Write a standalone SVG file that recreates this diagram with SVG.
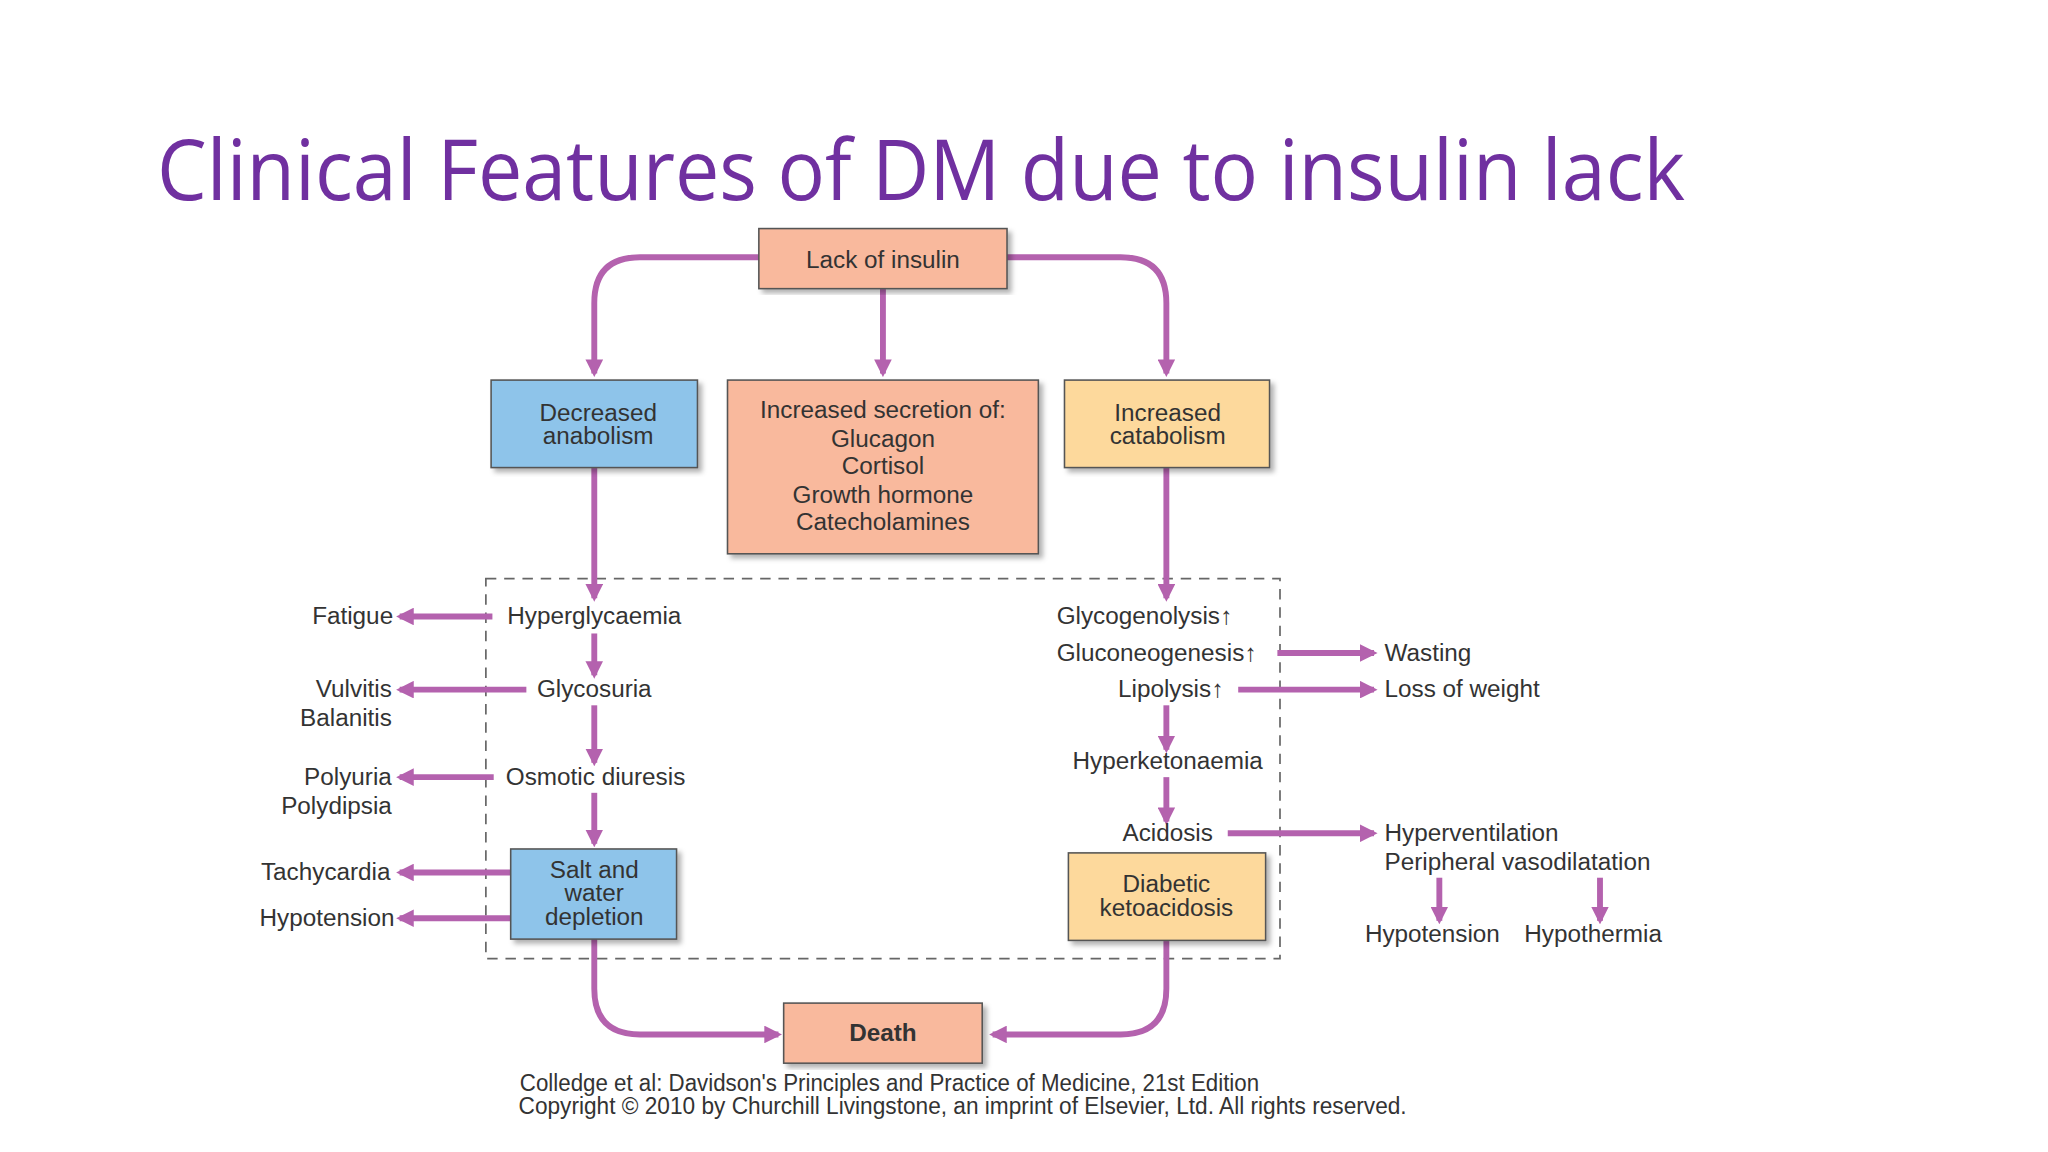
<svg xmlns="http://www.w3.org/2000/svg" width="2048" height="1152" viewBox="0 0 2048 1152">
<style>
.t{font-family:"Liberation Sans",Arial,sans-serif;font-size:18.6px;fill:#333}
.c{text-anchor:middle}
.e{text-anchor:end}
.box{stroke:#555;stroke-width:1.2}
.ln{fill:none;stroke:#B462AE;stroke-width:4.5;marker-end:url(#ah)}
.pk{fill:#F9B99D}.bl{fill:#8EC4EA}.yl{fill:#FDD99C}
</style>
<defs>
<marker id="ah" viewBox="0 0 10 10" refX="8" refY="5" markerWidth="3" markerHeight="3" orient="auto" markerUnits="strokeWidth"><path d="M0,0L10,5L0,10z" fill="#B462AE"/></marker>
<filter id="sh"><feDropShadow dx="3" dy="3" stdDeviation="2" flood-color="#000" flood-opacity="0.3"/></filter>
</defs>
<rect width="2048" height="1152" fill="#fff"/>
<text x="157" y="200" font-family="Open Sans,Lato,sans-serif" font-size="84" fill="#7030A0" textLength="1528" lengthAdjust="spacingAndGlyphs">Clinical Features of DM due to insulin lack</text>
<g transform="scale(1.30612)">
<rect x="372" y="443" width="608" height="291" fill="none" stroke="#666" stroke-width="1.3" stroke-dasharray="8,6"/>
<g id="connectors">
<path class="ln" d="M581,197H490Q455,197 455,232V286"/>
<path class="ln" d="M771,197H858Q893,197 893,232V286"/>
<path class="ln" d="M676,221V286"/>
<path class="ln" d="M455,358V458"/>
<path class="ln" d="M455,485V517"/>
<path class="ln" d="M455,540V584"/>
<path class="ln" d="M455,607V646"/>
<path class="ln" d="M893,358V458"/>
<path class="ln" d="M893,540V574"/>
<path class="ln" d="M893,595V629"/>
<path class="ln" d="M377,472H306"/>
<path class="ln" d="M403,528H306"/>
<path class="ln" d="M378,595H306"/>
<path class="ln" d="M391,668H306"/>
<path class="ln" d="M391,703H306"/>
<path class="ln" d="M978,500H1052"/>
<path class="ln" d="M948,528H1052"/>
<path class="ln" d="M940,638H1052"/>
<path class="ln" d="M1102,672V705"/>
<path class="ln" d="M1225,672V705"/>
<path class="ln" d="M455,719V757Q455,792 490,792H596"/>
<path class="ln" d="M893,720V757Q893,792 858,792H760"/>
</g>
<g id="lack"><rect class="box pk" filter="url(#sh)" x="581" y="175" width="190" height="46"/><text class="t c" x="676" y="205">Lack of insulin</text></g>
<g id="dec"><rect class="box bl" filter="url(#sh)" x="376" y="291" width="158" height="67"/><text class="t c" x="458" y="322">Decreased</text><text class="t c" x="458" y="340">anabolism</text></g>
<g id="sec"><rect class="box pk" filter="url(#sh)" x="557" y="291" width="238" height="133"/>
<text class="t c" x="676" y="320">Increased secretion of:</text><text class="t c" x="676" y="342">Glucagon</text><text class="t c" x="676" y="363">Cortisol</text><text class="t c" x="676" y="385">Growth hormone</text><text class="t c" x="676" y="406">Catecholamines</text></g>
<g id="inc"><rect class="box yl" filter="url(#sh)" x="815" y="291" width="157" height="67"/><text class="t c" x="894" y="322">Increased</text><text class="t c" x="894" y="340">catabolism</text></g>
<g id="salt"><rect class="box bl" filter="url(#sh)" x="391" y="650" width="127" height="69"/><text class="t c" x="455" y="672">Salt and</text><text class="t c" x="455" y="690">water</text><text class="t c" x="455" y="708">depletion</text></g>
<g id="dka"><rect class="box yl" filter="url(#sh)" x="818" y="653" width="151" height="67"/><text class="t c" x="893" y="683">Diabetic</text><text class="t c" x="893" y="701">ketoacidosis</text></g>
<g id="death"><rect class="box pk" filter="url(#sh)" x="600" y="768" width="152" height="46"/><text class="t c" x="676" y="797" font-weight="bold">Death</text></g>
<g id="left">
<text class="t c" x="455" y="478">Hyperglycaemia</text>
<text class="t c" x="455" y="534">Glycosuria</text>
<text class="t c" x="456" y="601">Osmotic diuresis</text>
<text class="t e" x="301" y="478">Fatigue</text>
<text class="t e" x="300" y="534">Vulvitis</text><text class="t e" x="300" y="556">Balanitis</text>
<text class="t e" x="300" y="601">Polyuria</text><text class="t e" x="300" y="623">Polydipsia</text>
<text class="t e" x="299" y="674">Tachycardia</text>
<text class="t e" x="302" y="709">Hypotension</text>
</g>
<g id="right">
<text class="t" x="809" y="478">Glycogenolysis↑</text>
<text class="t" x="809" y="506">Gluconeogenesis↑</text>
<text class="t" x="856" y="534">Lipolysis↑</text>
<text class="t c" x="894" y="589">Hyperketonaemia</text>
<text class="t c" x="894" y="644">Acidosis</text>
<text class="t" x="1060" y="506">Wasting</text>
<text class="t" x="1060" y="534">Loss of weight</text>
<text class="t" x="1060" y="644">Hyperventilation</text>
<text class="t" x="1060" y="666">Peripheral vasodilatation</text>
<text class="t" x="1045" y="721">Hypotension</text>
<text class="t" x="1167" y="721">Hypothermia</text>
</g>
<text class="t" x="398" y="835" font-size="14.5" textLength="566" lengthAdjust="spacingAndGlyphs">Colledge et al: Davidson's Principles and Practice of Medicine, 21st Edition</text>
<text class="t" x="397" y="853" font-size="14.5" textLength="680" lengthAdjust="spacingAndGlyphs">Copyright © 2010 by Churchill Livingstone, an imprint of Elsevier, Ltd. All rights reserved.</text>
</g>
</svg>
